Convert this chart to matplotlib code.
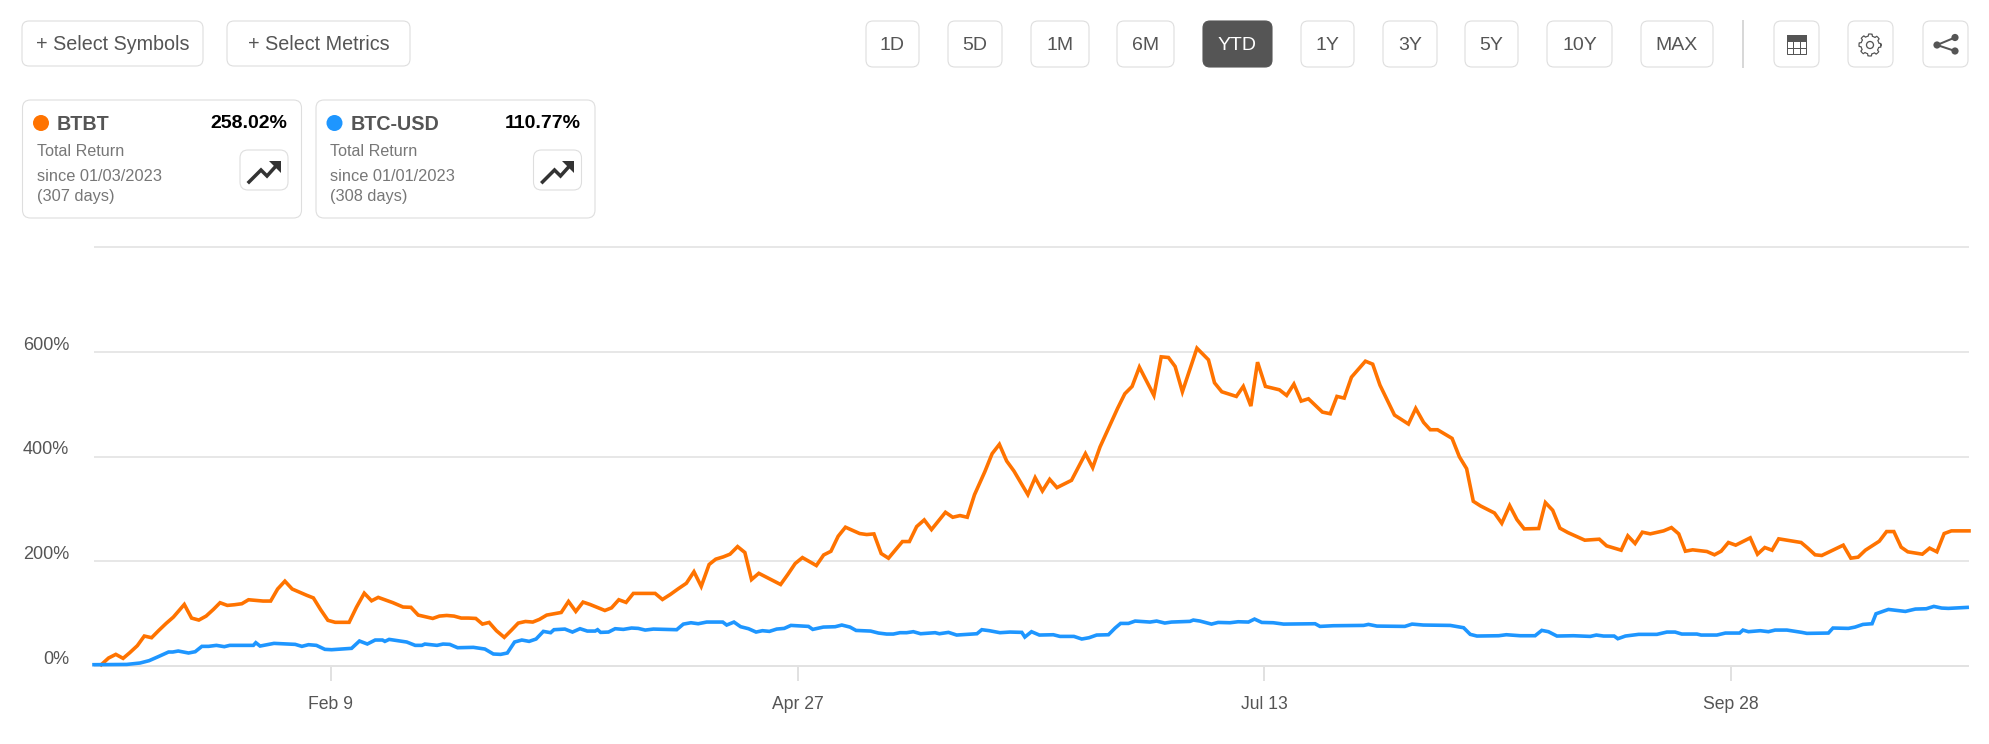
import numpy as np
import matplotlib
matplotlib.use('Agg')
import matplotlib.pyplot as plt
from matplotlib.patches import FancyBboxPatch, Circle, Rectangle, Polygon
from matplotlib.transforms import ScaledTranslation

plt.rcParams['font.family'] = ['Liberation Sans', 'DejaVu Sans']

#days since Jan 1 2023 and total return in percent
btbt_day = [1.1, 2.3, 3.5, 4.7, 5.8, 7.05, 8.2, 9.4, 10.6, 11.8, 13.0, 14.8, 16.0, 17.2, 18.4, 19.6, 20.7, 21.9, 23.1, 24.3,
            25.4, 26.6, 27.8, 29.05, 30.2, 31.4, 32.6, 33.8, 35.0, 36.1, 37.3, 38.5, 39.7, 40.9, 42.0, 43.2, 44.5, 45.7, 46.8, 48.0,
            49.2, 50.9, 52.2, 53.4, 54.6, 55.8, 56.9, 58.1, 59.3, 60.5, 61.7, 62.9, 64.0, 65.1, 66.3, 67.6, 68.8, 69.9, 71.1, 72.3,
            73.4, 74.6, 75.8, 77.0, 78.2, 79.4, 80.6, 81.75, 84.2, 85.3, 86.5, 87.7, 88.9, 90.1, 92.5, 93.7, 95.0, 96.3, 97.65, 98.9,
            100.1, 101.4, 102.5, 103.75, 104.85, 106.1, 107.3, 108.4, 109.6, 113.2, 114.4, 115.6, 116.8, 119.1, 120.3, 121.5,
            122.7, 123.9, 126.25, 127.4, 128.6, 129.8, 131.0, 133.3, 134.45, 135.65, 136.9, 138.1, 140.4, 141.6, 142.8, 144.0,
            145.2, 146.9, 148.1, 149.3, 150.5, 151.7, 154.0, 155.2, 156.4, 157.6, 158.8, 161.2, 162.3, 163.5, 164.7, 165.9,
            167.1, 168.8, 170.0, 171.2, 172.4, 174.8, 176.0, 177.2, 178.3, 179.5, 181.9, 183.8, 184.8, 186.0, 188.4, 189.55,
            190.8, 191.9, 193.2, 195.5, 196.7, 197.9, 199.1, 200.3, 202.6, 203.9, 205.0, 206.2, 207.4, 209.7, 210.9, 212.1,
            214.5, 216.8, 218.0, 219.3, 220.4, 221.6, 224.0, 225.2, 226.4, 227.5, 228.7, 231.0, 232.2, 233.5, 234.7, 235.9,
            238.3, 239.4, 240.6, 241.8, 243.1, 245.9, 248.3, 249.5, 251.9, 253.0, 254.2, 255.4, 256.7, 258.9, 260.2, 261.4,
            262.5, 263.7, 266.05, 267.3, 268.4, 269.6, 270.8, 273.2, 274.4, 275.6, 276.8, 277.9, 281.6, 282.7, 283.9, 285.0,
            288.55, 289.8, 291.0, 292.2, 294.5, 295.7, 296.9, 298.1, 299.2, 301.6, 302.8, 304.0, 305.2, 306.4, 309.3]
btbt_ret = [2.5, 15.2, 22.2, 14.6, 25.4, 38.8, 57.2, 54.0, 68.0, 81.3, 93.4, 117.5, 91.5, 87.7, 95.3, 108, 120.8, 115.7, 117, 118.9,
            126.5, 125.3, 124, 124, 147, 162, 147, 141, 135, 130, 107.5, 87.2, 83.4, 83.4, 83.4, 112, 139, 124.5, 131, 126,
            121, 112.6, 112, 97.2, 94, 90.8, 95.3, 96.5, 95.3, 91.5, 91.5, 90.8, 80, 83.2, 67.4, 54.7, 68.6, 81.9, 85, 83.9,
            89, 97.2, 99.7, 102.2, 123.2, 104.2, 122, 117.5, 106, 111, 126.5, 121.4, 138.6, 138.6, 138.6, 127, 136.6, 147.4, 158, 180,
            152, 193.8, 204, 208.4, 213.5, 228, 216.7, 165, 177, 155.6, 175, 195.6, 207, 191.8, 212, 219,
            247.8, 265, 252.9, 251, 252.2, 214.7, 205.8, 237.6, 237.6, 266.2, 278.9, 260.5, 293.5, 284, 287.2, 284,
            327.2, 371, 405.4, 423.2, 391.4, 372.3, 327.2, 359.6, 334.2, 356.4, 340.6, 354.5, 378.7, 405.4, 378.7, 418.1,
            448.6, 491.8, 519.8, 533.8, 570.6, 516.6, 590.3, 589, 571.9, 523.6, 606.8, 584.6, 540.7, 523.6, 514.7, 533.8,
            496.3, 580.1, 533.8, 527.4, 516.6, 538.2, 505.8, 510.2, 484.8, 481.6, 514.7, 511.5, 551.5, 582, 576.3, 536.3,
            479.1, 462, 491.8, 465.1, 451.1, 451.1, 434.6, 399.6, 376.8, 314.5, 305.6, 292.1, 272.5, 306.3, 279.6, 261.8,
            262.5, 312, 297.4, 263.1, 254.8, 240.2, 242.1, 229.4, 221.1, 248.5, 233.9, 255.5, 252.3, 258, 264.3, 252.3,
            219.2, 221.8, 218.6, 212.3, 219.2, 235.8, 230.7, 244.7, 213.5, 226.2, 221.1, 242.8, 235.8, 225, 212.3, 211,
            230.7, 205.9, 207.8, 221.1, 238.3, 256.7, 256.7, 226.9, 218, 213.5, 225, 218, 252.9, 258, 258]

btc_day = [-0.1, 5.3, 7.5, 9.0, 10.5, 12.2, 12.9, 13.8, 15.5, 16.6, 17.7, 18.8, 20.1, 21.4, 22.3, 26.2, 26.6, 27.3, 29.6, 33.1,
           34.2, 35.3, 36.6, 38.0, 39.1, 42.4, 43.7, 45.0, 46.3, 47.5, 47.9, 48.6, 51.5, 52.9, 54.0, 54.5, 56.5, 57.5, 58.6, 59.9,
           62.5, 64.4, 65.8, 67.0, 68.1, 69.3, 70.5, 71.7, 72.85, 74.05, 75.25, 75.8, 77.6, 78.85, 80.1, 81.3, 82.6, 83.0, 83.5, 84.8,
           85.9, 87.25, 88.6, 89.7, 90.85, 92.2, 94.4, 96.05, 97.15, 98.4, 99.6, 101.0, 103.65, 104.3, 105.5, 106.6, 107.9, 109.15, 110.2, 111.35,
           112.55, 113.8, 114.9, 117.8, 118.5, 120.25, 122.2, 123.3, 124.65, 125.65, 128.05, 129.35, 130.7, 131.8, 132.9, 134.0, 135.1, 136.3, 138.7, 139.4,
           140.9, 142.25, 145.6, 146.4, 147.65, 149.4, 151.05, 153.0, 153.5, 154.6, 155.9, 158.2, 159.3, 161.6, 162.9, 164.1, 165.35, 167.3, 168.4, 169.3,
           170.6, 171.7, 174.15, 175.25, 176.6, 177.7, 180.75, 181.3, 182.4, 184.3, 185.4, 187.35, 188.7, 190.4, 191.4, 192.6, 194.5, 196.2, 201.4, 202.2,
           204.4, 209.4, 210.2, 211.6, 216.2, 217.4, 219.25, 223.7, 225.9, 227.0, 228.1, 231.7, 232.95, 235.25, 237.7, 238.8, 239.9, 241.3, 244.05, 246.8,
           247.8, 249.0, 250.75, 251.35, 252.6, 254.8, 257.8, 259.45, 260.8, 261.9, 264.4, 265.1, 267.7, 269.1, 271.45, 272.0, 272.9, 274.85, 276.2, 277.3,
           279.25, 281.7, 282.55, 286.1, 286.85, 289.4, 290.5, 291.8, 293.3, 293.95, 296.0, 298.8, 300.45, 302.25, 303.5, 304.8, 305.9, 309.0]
btc_ret = [2.5, 3, 5.7, 10.2, 17.8, 26.7, 26.7, 28.6, 24.8, 27.3, 37.5, 37.5, 39.4, 36.9, 39.4, 39.4, 44.5, 38.1, 43.2, 41.3,
           37.5, 40.7, 39.4, 31.8, 31.1, 33.7, 47.7, 42, 49.6, 49.6, 47, 50.8, 45.8, 39.4, 39.4, 41.9, 39.4, 41.9, 41.3, 34.9,
           35.6, 32.4, 22.9, 22.2, 24.8, 45.8, 49.6, 47, 51.5, 66.1, 63.6, 69.3, 70.5, 64.8, 71.2, 66.7, 66.7, 69.3, 64.2, 64.8,
           71.2, 69.9, 72.5, 71.8, 68.6, 70.5, 69.9, 69.3, 80, 82.6, 80.7, 83.9, 83.9, 78.2, 83.9, 75, 71.2, 64.8, 67.4, 66.1,
           70.5, 71.8, 77.5, 75.6, 69.9, 74.3, 75, 78.2, 74.3, 67.9, 66.7, 62.9, 61, 61, 63.6, 63.6, 65.5, 61.6, 63.6, 61.6,
           64.2, 59.1, 61.6, 69.3, 67.4, 63.6, 64.8, 64.2, 55.3, 65.5, 59.1, 59.7, 56.5, 56.5, 51.5, 54, 59.1, 59.7, 72.5, 81.3,
           81.3, 85.8, 83.9, 85.8, 82, 83.9, 85.2, 87.7, 85.8, 80, 83.2, 82.6, 84.5, 83.9, 89.6, 83.2, 82.6, 80, 80.7, 75.6,
           76.9, 77.5, 79.4, 76.2, 75.6, 80, 78.2, 77.5, 73.1, 60.4, 57.2, 57.8, 59.7, 57.8, 57.8, 68, 65.5, 57.2, 57.8, 56.5,
           59.1, 57.2, 57.2, 52.1, 57.2, 60.4, 60.4, 64.8, 64.8, 61, 61, 59.1, 59.1, 62.9, 62.9, 68.6, 65.5, 67.4, 65.5, 68.6,
           68.6, 64.2, 62.3, 62.9, 72.5, 71.8, 74.3, 79.4, 80.7, 99.7, 108, 104.2, 108.7, 109.3, 113.8, 110.6, 110, 111.9]

tick_days = [39, 116, 193, 270]
tick_labels = ['Feb 9', 'Apr 27', 'Jul 13', 'Sep 28']
y_ticks = [0, 200, 400, 600, 800]
y_labels = ['0%', '200%', '400%', '600%', '']

range_buttons = ['1D', '5D', '1M', '6M', 'YTD', '1Y', '3Y', '5Y', '10Y', 'MAX']
range_left = [866, 948, 1031, 1117, 1203, 1301, 1383, 1465, 1547, 1641]
range_right = [919, 1002, 1089, 1174, 1272, 1354, 1437, 1518, 1612, 1713]

cards = [('BTBT', '258.02%', 'since 01/03/2023', '(307 days)', '#FF7300'),
         ('BTC-USD', '110.77%', 'since 01/01/2023', '(308 days)', '#1E96FF')]

W, H = 1989, 744
ORANGE = '#FF7300'
BLUE = '#1E96FF'
GRID = '#e2e2e2'
BORDER = '#dedede'
TXT = '#555555'
px = 0.72  # one pixel in points at dpi 100

fig = plt.figure(figsize=(W/100, H/100), dpi=100, facecolor='white')

#page furniture is drawn in one big axes measured in pixels
ui = fig.add_axes([0, 0, 1, 1])
ui.set_xlim(0, W)
ui.set_ylim(H, 0)
ui.axis('off')


def button(x0, y0, x1, y1, face='white', edge=BORDER, r=7):
    ui.add_patch(FancyBboxPatch((x0, y0), x1-x0, y1-y0, boxstyle='round,pad=0,rounding_size=%d' % r,
                                fc=face, ec=edge, lw=1.1*px))


button(22, 21, 203, 66)
ui.text(112.5, 44.5, '+ Select Symbols', ha='center', va='center', fontsize=14.2, color=TXT)
button(227, 21, 410, 66)
ui.text(318.5, 44.5, '+ Select Metrics', ha='center', va='center', fontsize=14.2, color=TXT)

for name, x0, x1 in zip(range_buttons, range_left, range_right):
    active = name == 'YTD'
    button(x0, 21, x1, 67, face='#555555' if active else 'white', edge='#555555' if active else BORDER)
    ui.text((x0+x1)/2, 45, name, ha='center', va='center', fontsize=14, color='white' if active else TXT)

ui.plot([1743, 1743], [21, 67], color='#d8d8d8', lw=2*px)

#table icon
button(1774, 21, 1819, 67)
ui.add_patch(Rectangle((1787, 35), 19, 19, fc='white', ec='#555555', lw=1*px))
ui.add_patch(Rectangle((1787, 35), 19, 6, fc='#555555', ec='#555555', lw=1*px))
for gx in [1793.3, 1799.6]:
    ui.plot([gx, gx], [41, 54], color='#555555', lw=1*px)
ui.plot([1787, 1806], [47.5, 47.5], color='#555555', lw=1*px)

#gear icon
button(1848, 21, 1893, 67)
ang = np.linspace(0, 2*np.pi, 97)
rad = 9 + 2*(np.cos(8*ang) > 0)
ui.plot(1870+rad*np.cos(ang), 45+rad*np.sin(ang), color='#555555', lw=1.2*px)
ui.add_patch(Circle((1870, 45), 3.5, fc='white', ec='#555555', lw=1.3*px))

#share icon
button(1923, 21, 1968, 67)
ui.plot([1955, 1937, 1955], [37.5, 45, 51], color='#555555', lw=2*px)
for cx, cy in [(1955, 37.5), (1937, 45), (1955, 51)]:
    ui.add_patch(Circle((cx, cy), 3.6, fc='#555555', ec='none'))

#the two return cards
for i, (sym, pct, since, days, col) in enumerate(cards):
    dx = 293.5*i
    button(22.5+dx, 100, 301.5+dx, 218, r=8)
    ui.add_patch(Circle((41+dx, 123), 8, fc=col, ec='none'))
    ui.text(57+dx, 124, sym, fontsize=14.2, fontweight='bold', color=TXT, va='center')
    ui.text(287.5+dx, 124, pct, fontsize=14, fontweight='bold', color='black', va='center', ha='right')
    ui.text(37+dx, 151, 'Total Return', fontsize=11.6, color='#777777', va='center')
    ui.text(37+dx, 176.5, since, fontsize=11.8, color='#777777', va='center')
    ui.text(37+dx, 196.5, days, fontsize=11.8, color='#777777', va='center')
    button(240+dx, 150, 288+dx, 190, r=8)
    ui.plot([249+dx, 261+dx, 267+dx, 276+dx], [182, 170, 176, 166], color='#333333', lw=3.5*px, solid_joinstyle='miter')
    ui.add_patch(Polygon([(269+dx, 161), (281+dx, 161), (281+dx, 173)], fc='#333333', ec='none'))

#the chart itself
ax = fig.add_axes([94/W, 1-666/H, (1969-94)/W, (666-247)/H])
ax.patch.set_alpha(0)
ax.set_xlim(-0.1, 309.3)
ax.set_ylim(0, 800)
ax.plot(btbt_day, btbt_ret, color=ORANGE, lw=3.6*px, solid_joinstyle='miter', zorder=3, clip_on=False)
ax.plot(btc_day, btc_ret, color=BLUE, lw=3.6*px, solid_joinstyle='miter', zorder=4, clip_on=False)

ax.set_yticks(y_ticks)
ax.set_yticklabels(y_labels, fontsize=13, color=TXT, va='bottom')
ax.set_xticks(tick_days)
ax.set_xticklabels(tick_labels, fontsize=12.7, color=TXT)
ax.tick_params(axis='y', length=0, pad=18)
ax.tick_params(axis='x', length=15*px, width=1.5*px, color='#d8d8d8', pad=10.5)
#labels sit a little closer to their gridlines than va=bottom gives
nudge = ScaledTranslation(0, -2/100, fig.dpi_scale_trans)
for lab in ax.get_yticklabels():
    lab.set_transform(lab.get_transform() + nudge)
ax.grid(axis='y', color=GRID, lw=1.6*px, solid_capstyle='butt')
ax.set_axisbelow(True)
for gl in ax.get_ygridlines():
    gl.set_clip_on(False)
for s in ['top', 'left', 'right']:
    ax.spines[s].set_visible(False)
ax.spines['bottom'].set_color(GRID)
ax.spines['bottom'].set_linewidth(2*px)
ax.spines['bottom'].set_capstyle('butt')

fig.savefig('out.png', dpi=100, facecolor='white')
